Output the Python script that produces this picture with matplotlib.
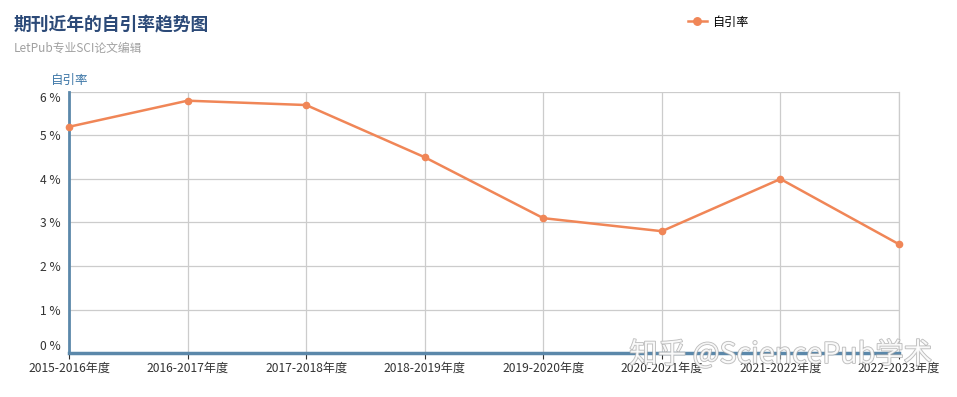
import matplotlib.pyplot as plt
import matplotlib.patheffects as pe

plt.rcParams['font.family'] = ['Noto Sans CJK SC', 'DejaVu Sans']

years = ['2015-2016年度', '2016-2017年度', '2017-2018年度', '2018-2019年度',
         '2019-2020年度', '2020-2021年度', '2021-2022年度', '2022-2023年度']
self_cite = [5.2, 5.8, 5.7, 4.5, 3.1, 2.8, 4.0, 2.5]
y_ticks = [0, 1, 2, 3, 4, 5, 6]

line_color = '#f08657'
axis_color = '#5b88aa'

fig = plt.figure(figsize=(9.57, 3.97), dpi=100)
ax = fig.add_axes([0.0721, 0.1108, 0.8673, 0.6575])

x = list(range(len(years)))
ax.plot(x, self_cite, color=line_color, lw=1.8, marker='o', ms=4.5,
        label='自引率', zorder=5, clip_on=False)

ax.set_xlim(0, len(years) - 1)
ax.set_ylim(0, 6)
ax.set_xticks(x)
ax.set_xticklabels(years, fontsize=8.7, color='#333333')
ax.set_yticks(y_ticks)
ax.set_yticklabels(['{} %'.format(v) for v in y_ticks], fontsize=8.7, color='#333333')
labels = ax.get_yticklabels()
labels[0].set_va('bottom')
labels[-1].set_va('top')

ax.grid(True, color='#cccccc', lw=0.9)
ax.set_axisbelow(True)
ax.spines['top'].set_visible(False)
ax.spines['right'].set_color('#cccccc')
ax.spines['right'].set_linewidth(0.9)
ax.spines['left'].set_color(axis_color)
ax.spines['left'].set_linewidth(2)
ax.spines['bottom'].set_color(axis_color)
ax.spines['bottom'].set_linewidth(2.5)
ax.spines['left'].set_zorder(4)
ax.spines['bottom'].set_zorder(4)
ax.tick_params(axis='y', length=0, pad=6)
ax.tick_params(axis='x', length=4, color='#333333', pad=2, direction='out')

fig.text(14 / 957, 1 - 24 / 397, '期刊近年的自引率趋势图', fontsize=12.8,
         fontweight='bold', color='#2c4a78', va='center')
fig.text(14 / 957, 1 - 48 / 397, 'LetPub专业SCI论文编辑', fontsize=8.5,
         color='#a0a0a0', va='center')
fig.text(51 / 957, 1 - 80 / 397, '自引率', fontsize=9, color='#3f78a8', va='center')

ax.legend(loc='center', bbox_to_anchor=(718 / 957, 1 - 22 / 397),
          bbox_transform=fig.transFigure, frameon=False, fontsize=8.7,
          handlelength=1.6, handletextpad=0.4, markerscale=1.2)

# watermark that sits over the chart in the reference
fig.text(781 / 957, 1 - 355 / 397, '知乎 @SciencePub学术', fontsize=20.5,
         color='white', alpha=0.85, ha='center', va='center',
         path_effects=[pe.withStroke(linewidth=1.2, foreground='#b0b0b0')],
         zorder=10)

fig.savefig('out.png', dpi=100)
